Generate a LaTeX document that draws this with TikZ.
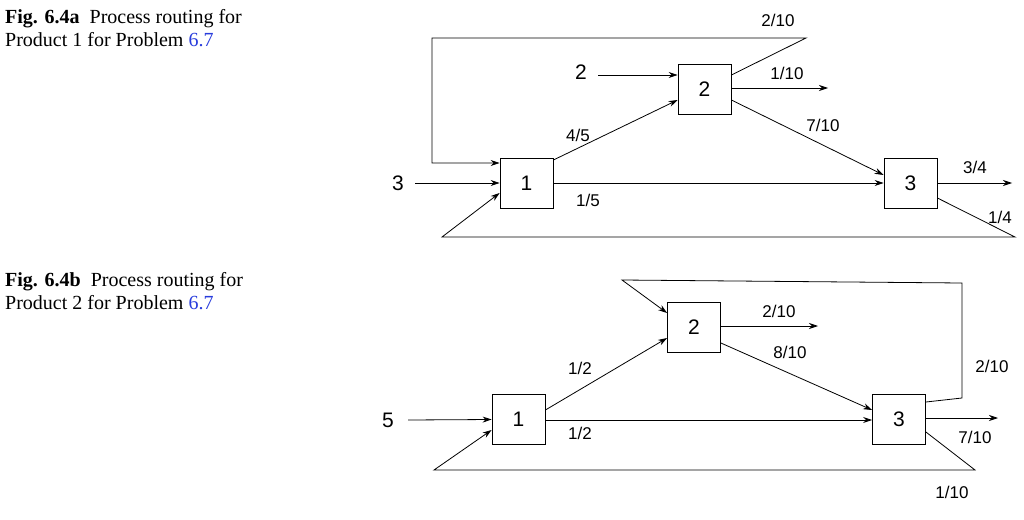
\documentclass[tikz,border=0pt]{standalone}
\usepackage{fontspec}
\setmainfont{Liberation Serif}
\newfontfamily\lab{Liberation Sans}
\usetikzlibrary{arrows.meta}
\definecolor{lnk}{RGB}{40,60,220}
\begin{document}
\begin{tikzpicture}[x=1pt,y=-1pt,
  bx/.style={draw,thick,minimum width=53pt,minimum height=50pt,inner sep=0pt,font=\lab\fontsize{21}{21}\selectfont},
  ar/.style={-{Stealth[length=9pt,width=6pt]},thick},
  lb/.style={font=\lab\fontsize{17}{17}\selectfont,inner sep=1pt},
  big/.style={font=\lab\fontsize{21}{21}\selectfont,inner sep=1pt},
  captxt/.style={font=\fontsize{20}{23}\selectfont,align=left,anchor=north west,inner sep=0pt}]
\useasboundingbox (0,0) rectangle (1024,519);
% captions
\node[captxt] (c1) at (5,9) {\textbf{Fig. 6.4a}\ \ Process routing for\\Product 1 for Problem \textcolor{lnk}{6.7}};
\node[captxt] (c2) at (5,272) {\textbf{Fig. 6.4b}\ \ Process routing for\\Product 2 for Problem \textcolor{lnk}{6.7}};
% ---- top
\node[bx] (a1) at (526.5,183) {1};
\node[bx] (a2) at (704.5,89.5) {2};
\node[bx] (a3) at (910.5,183) {3};
\node[big] (a3in) at (398,183) {3};
\node[big] (a2in) at (581,72) {2};
\coordinate (a2out) at (828,88);
\coordinate (a3out) at (1012,183);
\draw[ar] (415,183) -- (a1.west);
\draw[ar] (598,75) -- (a2.west|-0,75);
\draw[ar] (a2.east|-0,88) -- (a2out);
\draw[ar] (a1.east|-0,160) -- (a2.west|-0,100);
\draw[ar] (a2.east|-0,100) -- (a3.west|-0,175);
\draw[ar] (a1.east) -- (a3.west);
\draw[ar] (a3.east) -- (a3out);
\draw[ar] (a2.east|-0,75) -- (806,38) -- (432,38) -- (432,163) -- (a1.west|-0,163);
\draw[ar] (a3.east|-0,198) -- (1015,237) -- (442,237) -- (a1.west|-0,193);
\node[lb] at (778,20) {2/10};
\node[lb] at (787,73) {1/10};
\node[lb] at (578,135) {4/5};
\node[lb] at (823,125) {7/10};
\node[lb] at (588,200) {1/5};
\node[lb] at (975,167) {3/4};
\node[lb] at (1000,217) {1/4};
% ---- bottom
\node[bx] (b1) at (518.5,419.5) {1};
\node[bx] (b2) at (694,327.5) {2};
\node[bx] (b3) at (899,419) {3};
\node[big] (b1in) at (388,420) {5};
\coordinate (b2out) at (818,326);
\coordinate (b3out) at (998,418);
\draw[ar] (408,420) -- (b1.west);
\draw[ar] (b2.east|-0,326) -- (b2out);
\draw[ar] (b1.east|-0,410) -- (b2.west|-0,338);
\draw[ar] (b2.east|-0,343) -- (b3.west|-0,410);
\draw[ar] (b1.east|-0,420) -- (b3.west|-0,420);
\draw[ar] (b3.east|-0,418) -- (b3out);
\draw[ar] (b3.east|-0,402) -- (962,398) -- (962,283) -- (622,280) -- (b2.west|-0,313);
\draw[ar] (b3.east|-0,432) -- (975,470) -- (434,470) -- (b1.west|-0,430);
\node[lb] at (779,311) {2/10};
\node[lb] at (580,368) {1/2};
\node[lb] at (790,352) {8/10};
\node[lb] at (580,433) {1/2};
\node[lb] at (992,366) {2/10};
\node[lb] at (975,437) {7/10};
\node[lb] at (952,492) {1/10};
\end{tikzpicture}
\end{document}
